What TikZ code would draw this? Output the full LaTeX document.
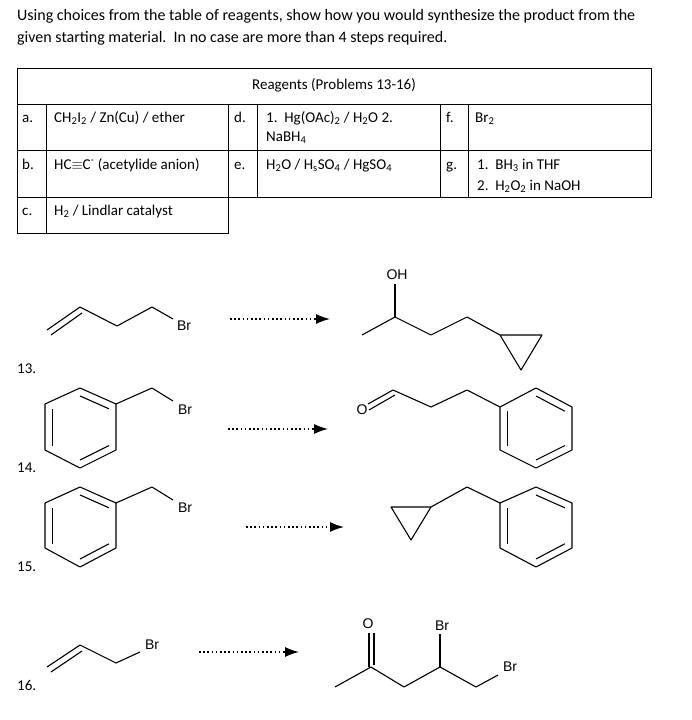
\documentclass[tikz,border=0pt]{standalone}
\usepackage{fontspec}
\setmainfont{Carlito}
\newfontfamily\molfont{Liberation Sans}
\usetikzlibrary{calc,arrows.meta}
\newcommand{\sbs}[1]{\textsubscript{#1}}
\begin{document}
\begin{tikzpicture}[x=1pt,y=-1pt,
  cell/.style={anchor=base west,inner sep=0,font=\fontsize{15}{16}\selectfont},
  bond/.style={line width=1.1pt,line join=round},
  atom/.style={inner sep=0,font=\molfont\fontsize{14}{14}\selectfont},
  rxn/.style={line width=1.3pt,dash pattern=on 1.6pt off 2.6pt,-{Latex[length=14pt,width=10pt]}},
  num/.style={anchor=base west,inner sep=0,font=\fontsize{15}{16}\selectfont}]
\useasboundingbox (0,0) rectangle (692,720);
% heading
\node[cell,font=\fontsize{16}{16}\selectfont] (h1) at (17,20) {Using choices from the table of reagents, show how you would synthesize the product from the};
\node[cell,font=\fontsize{16}{16}\selectfont] (h2) at (17,42) {given starting material.\ \ In no case are more than 4 steps required.};
% table
\draw[line width=0.8pt] (17,68) rectangle (651,197);
\draw[line width=0.8pt] (17,104) -- (651,104) (17,150) -- (651,150);
\draw[line width=0.8pt] (17,197) -- (17,233) -- (228,233) -- (228,197);
\draw[line width=0.8pt] (46,104) -- (46,233);
\draw[line width=0.8pt] (228,104) -- (228,197) (257,104) -- (257,197) (440,104) -- (440,197) (468,104) -- (468,197);
\node[cell,anchor=base] (th) at (334,89) {Reagents (Problems 13-16)};
\node[cell] (la) at (22,122) {a.};
\node[cell] (ta) at (54,122) {CH\sbs{2}I\sbs{2} / Zn(Cu) / ether};
\node[cell] (ld) at (234,122) {d.};
\node[cell] (td) at (266,122) {1.\ \ Hg(OAc)\sbs{2} / H\sbs{2}O 2.};
\node[cell] (td2) at (266,141) {NaBH\sbs{4}};
\node[cell] (lf) at (446,122) {f.};
\node[cell] (tf) at (475,122) {Br\sbs{2}};
\node[cell] (lb) at (22,169) {b.};
\node[cell] (tb) at (54,169) {HC$\equiv$C\textsuperscript{-} (acetylide anion)};
\node[cell] (le) at (234,169) {e.};
\node[cell] (te) at (266,169) {H\sbs{2}O / H\sbs{s}SO\sbs{4} / HgSO\sbs{4}};
\node[cell] (lg) at (446,169) {g.};
\node[cell] (tg) at (477,169) {1.\ \ BH\sbs{3} in THF};
\node[cell] (tg2) at (477,190) {2.\ \ H\sbs{2}O\sbs{2} in NaOH};
\node[cell] (lc) at (22,215) {c.};
\node[cell] (tc) at (54,215) {H\sbs{2} / Lindlar catalyst};
% labels
\node[num] (n13) at (17,373) {13.};
\node[num] (n14) at (17,472) {14.};
\node[num] (n15) at (17,571) {15.};
\node[num] (n16) at (17,690) {16.};
% ---- 13 start
\draw[bond] (47,330) -- (80,307) -- (117,326) -- (152,307) -- (173,319);
\draw[bond] (51,335) -- (82,313);
\node[atom] (br13) at (184,326) {Br};
\coordinate (a13s) at (230,319); \coordinate (a13e) at (330,319);
\draw[rxn] (a13s) -- (a13e);
% 13 product
\draw[bond] (362,335) -- (395,317) -- (431,335) -- (467,317) -- (500,335);
\draw[bond] (500,335) -- (542,335) -- (521,370) -- cycle;
\draw[bond] (395,317) -- (395,284);
\node[atom] (oh13) at (397,275) {OH};
% ---- 14 start
\foreach \p/\c in {1/{80,388},2/{116,404},3/{116,450},4/{80,468},5/{45,450},6/{45,404}} {\coordinate (A\p) at (\c);}
\coordinate (Ac) at (80.5,428);
\draw[bond] (A1)--(A2)--(A3)--(A4)--(A5)--(A6)--cycle;
\foreach \u/\v in {1/2,3/4,5/6} \draw[bond] ($(A\u)!0.2!(Ac)$) -- ($(A\v)!0.2!(Ac)$);
\draw[bond] (A2) -- (152,388) -- (173,401);
\node[atom] (br14) at (185,410) {Br};
\coordinate (a14s) at (228,429); \coordinate (a14e) at (328,429);
\draw[rxn] (a14s) -- (a14e);
% 14 product
\node[atom] (o14) at (362,410) {O};
\draw[bond] (368,404) -- (393,390) -- (431,407) -- (467,390) -- (500,407);
\draw[bond] (369,410) -- (395,395);
\foreach \p/\c in {1/{500,407},2/{536,388},3/{572,407},4/{572,450},5/{536,468},6/{500,450}} {\coordinate (B\p) at (\c);}
\coordinate (Bc) at (536,428);
\draw[bond] (B1)--(B2)--(B3)--(B4)--(B5)--(B6)--cycle;
\foreach \u/\v in {2/3,4/5,6/1} \draw[bond] ($(B\u)!0.2!(Bc)$) -- ($(B\v)!0.2!(Bc)$);
% ---- 15 start
\foreach \p/\c in {1/{80,487},2/{116,503},3/{116,548},4/{80,567},5/{45,548},6/{45,503}} {\coordinate (C\p) at (\c);}
\coordinate (Cc) at (80.5,527);
\draw[bond] (C1)--(C2)--(C3)--(C4)--(C5)--(C6)--cycle;
\foreach \u/\v in {1/2,3/4,5/6} \draw[bond] ($(C\u)!0.2!(Cc)$) -- ($(C\v)!0.2!(Cc)$);
\draw[bond] (C2) -- (152,487) -- (173,500);
\node[atom] (br15) at (185,508) {Br};
\coordinate (a15s) at (246,527); \coordinate (a15e) at (344,527);
\draw[rxn] (a15s) -- (a15e);
% 15 product
\draw[bond] (391,507) -- (431,507) -- (411,540) -- cycle;
\draw[bond] (431,507) -- (467,487) -- (500,503);
\foreach \p/\c in {1/{500,503},2/{536,487},3/{572,503},4/{572,548},5/{536,567},6/{500,548}} {\coordinate (D\p) at (\c);}
\coordinate (Dc) at (536,527);
\draw[bond] (D1)--(D2)--(D3)--(D4)--(D5)--(D6)--cycle;
\foreach \u/\v in {2/3,4/5,6/1} \draw[bond] ($(D\u)!0.2!(Dc)$) -- ($(D\v)!0.2!(Dc)$);
% ---- 16 start
\draw[bond] (47,667) -- (80,645) -- (116,663) -- (140,652);
\draw[bond] (51,672) -- (82,651);
\node[atom] (br16) at (152,645) {Br};
\coordinate (a16s) at (199,652); \coordinate (a16e) at (299,652);
\draw[rxn] (a16s) -- (a16e);
% 16 product
\draw[bond] (335,687) -- (371,667) -- (404,687) -- (440,667) -- (476,687) -- (498,675);
\draw[bond] (369,667) -- (369,633);
\draw[bond] (374,665) -- (374,633);
\node[atom] (o16) at (368,624) {O};
\draw[bond] (440,667) -- (440,634);
\node[atom] (br16b) at (442,626) {Br};
\node[atom] (br16c) at (510,667) {Br};
\end{tikzpicture}
\end{document}
